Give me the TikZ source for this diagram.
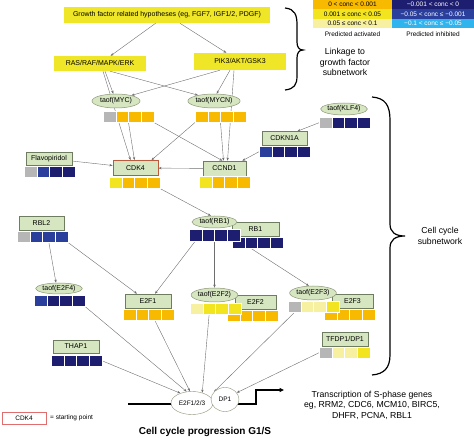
\documentclass[tikz,border=0pt]{standalone}
\usepackage{fontspec}
\setmainfont{Liberation Sans}
\usetikzlibrary{arrows.meta,positioning,shapes.geometric}
\definecolor{hypyellow}{RGB}{240,230,40}
\definecolor{boxfill}{RGB}{214,230,192}
\definecolor{boxline}{RGB}{110,125,95}
\definecolor{ovalline}{RGB}{140,150,120}
\definecolor{cdkred}{RGB}{190,90,60}
\definecolor{startred}{RGB}{225,110,110}
\definecolor{linkgrey}{RGB}{110,110,110}
\definecolor{cgrey}{RGB}{182,182,182}
\definecolor{act1}{RGB}{248,186,0}
\definecolor{act2}{RGB}{242,228,30}
\definecolor{act3}{RGB}{247,240,160}
\definecolor{inh1}{RGB}{30,30,112}
\definecolor{inh2}{RGB}{42,62,156}
\definecolor{inh3}{RGB}{48,180,238}
\pgfdeclarelayer{back}
\pgfsetlayers{back,main}
\tikzset{
	cell/.style={rectangle, draw=white, line width=0.5pt, minimum width=12.75pt, minimum height=11.5pt, inner sep=0pt, outer sep=0pt},
	gene/.style={rectangle, draw=boxline, fill=boxfill, line width=0.5pt, minimum width=46pt, minimum height=14pt, inner sep=0pt, font=\fontsize{7}{8}\selectfont},
	taof/.style={ellipse, draw=ovalline, fill=boxfill, line width=0.5pt, minimum width=46pt, minimum height=13pt, inner sep=0pt, font=\fontsize{7}{8}\selectfont},
	hyp/.style={rectangle, fill=hypyellow, minimum height=16pt, inner sep=0pt, font=\fontsize{7}{8}\selectfont},
	link/.style={draw=linkgrey, line width=0.4pt, -{Stealth[length=3.2pt,width=2.4pt]}},
	bigtext/.style={font=\fontsize{8.7}{10.5}\selectfont, align=center},
	legtext/.style={font=\fontsize{6.5}{7}\selectfont, inner sep=0pt},
}
% four coloured cells under a node
\def\cbar[#1](#2)(#3,#4,#5,#6){
	\node[cell, fill=#3, anchor=north west] (#1-1) at (#2) {};
	\node[cell, fill=#4, right=0pt of #1-1] (#1-2) {};
	\node[cell, fill=#5, right=0pt of #1-2] (#1-3) {};
	\node[cell, fill=#6, right=0pt of #1-3] (#1-4) {};
}

\begin{document}
\begin{tikzpicture}[x=1pt, y=-1pt]
			%%%%% START %%%%%
			\useasboundingbox (0,0) rectangle (474,438);
			
			% legend
			\fill[act1] (313,0) rectangle (392,9.5);
			\fill[act2] (313,9.5) rectangle (392,19);
			\fill[act3] (313,19) rectangle (392,28.5);
			\fill[inh1] (392,0) rectangle (474,9.5);
			\fill[inh2] (392,9.5) rectangle (474,19);
			\fill[inh3] (392,19) rectangle (474,28.5);
			\node[legtext] (la1) at (352.5,4.75) {0 < conc < 0.001};
			\node[legtext] (la2) at (352.5,14.25) {0.001 ≤ conc < 0.05};
			\node[legtext] (la3) at (352.5,23.75) {0.05 ≤ conc < 0.1};
			\node[legtext, text=white] (li1) at (433,4.75) {−0.001 < conc < 0};
			\node[legtext, text=white] (li2) at (433,14.25) {−0.05 < conc ≤ −0.001};
			\node[legtext, text=white] (li3) at (433,23.75) {−0.1 < conc ≤ −0.05};
			\node[legtext] (lact) at (352.5,34) {Predicted activated};
			\node[legtext] (linh) at (433,34) {Predicted inhibited};
			
			% growth factor subnetwork
			\node[hyp, minimum width=206pt] (hyp) at (167,15) {Growth factor related hypotheses (eg, FGF7, IGF1/2, PDGF)};
			\node[hyp, minimum width=92pt, minimum height=15pt] (ras) at (100,63.5) {RAS/RAF/MAPK/ERK};
			\node[hyp, minimum width=92pt, minimum height=17pt] (pik) at (240,61.5) {PIK3/AKT/GSK3};
			
			\node[taof, minimum width=48pt, minimum height=14pt] (myc) at (116,101) {taof(MYC)};
			\cbar[mycb](103,111)(cgrey,act1,act1,act1)
			\node[taof, minimum height=14pt] (mycn) at (214,101) {taof(MYCN)};
			\cbar[mycnb](195,111)(act1,act1,act1,act1)
			
			% cell cycle subnetwork
			\node[gene, draw=cdkred, line width=0.8pt, minimum width=45pt, minimum height=15pt] (cdk4) at (135.5,168) {CDK4};
			\cbar[cdk4b](109,177)(act2,act1,act1,act1)
			\node[gene, minimum width=43pt, minimum height=15pt] (ccnd1) at (224.5,168.5) {CCND1};
			\cbar[ccnd1b](199,176.5)(act2,act1,act1,act1)
			\node[taof, minimum height=12pt] (klf4) at (344,109) {taof(KLF4)};
			\cbar[klf4b](319,117)(cgrey,inh1,inh1,inh1)
			\node[gene, minimum width=45pt] (cdkn1a) at (284.5,138.5) {CDKN1A};
			\cbar[cdkn1ab](259,146)(inh2,inh1,inh1,inh1)
			\node[gene, minimum height=13pt] (flavo) at (49,158.5) {Flavopiridol};
			\cbar[flavob](24,166)(cgrey,inh2,inh1,inh1)
			
			\node[gene, minimum width=45pt] (rbl2) at (41.5,223) {RBL2};
			\cbar[rbl2b](17,231)(cgrey,inh2,inh2,inh2)
			\node[gene, minimum width=47pt] (rb1) at (255.5,229) {RB1};
			\cbar[rb1b](232,237)(inh1,inh1,inh1,inh1)
			\node[taof, minimum width=45pt, minimum height=12pt] (taofrb1) at (214.5,222) {taof(RB1)};
			\cbar[taofrb1b](189,229.5)(inh1,inh1,inh1,inh1)
			
			\node[taof, minimum height=11pt] (taofe2f4) at (59,288.5) {taof(E2F4)};
			\cbar[taofe2f4b](34,295)(inh2,inh1,inh1,inh1)
			\node[gene] (e2f1) at (148,301) {E2F1};
			\cbar[e2f1b](123,309)(act1,act1,act1,act1)
			\node[gene, minimum height=13pt] (thap1) at (76,346.5) {THAP1};
			\cbar[thap1b](51,355)(inh1,inh1,inh1,inh1)
			
			\node[gene, minimum width=41pt] (e2f2) at (255.5,302) {E2F2};
			\cbar[e2f2b](227,310)(act1,act1,act1,act1)
			\node[taof, minimum width=45pt, minimum height=14pt] (taofe2f2) at (214.5,295) {taof(E2F2)};
			\cbar[taofe2f2b](190,303)(act3,act2,act2,act2)
			
			\node[gene, minimum width=41pt] (e2f3) at (352.5,301) {E2F3};
			\cbar[e2f3b](324,309)(act1,act1,act1,act1)
			\node[taof, minimum height=14pt] (taofe2f3) at (313,293) {taof(E2F3)};
			\cbar[taofe2f3b](288,301)(cgrey,act3,act3,act2)
			\node[gene] (tfdp1) at (345,339) {TFDP1/DP1};
			\cbar[tfdp1b](319,347)(cgrey,act3,act3,act2)
			
			% E2F/DP complex on the promoter
			\node[ellipse, draw=ovalline, fill=white, minimum width=42pt, minimum height=23pt, inner sep=0pt, font=\fontsize{6.5}{7}\selectfont] (e2fc) at (192,403) {E2F1/2/3};
			\node[ellipse, draw=ovalline, fill=white, minimum width=28pt, minimum height=24pt, inner sep=0pt, font=\fontsize{6.5}{7}\selectfont] (dp1) at (225,399.5) {DP1};
			\coordinate (lnl) at (128,404);
			\coordinate (lnr) at (256,404);
			\coordinate (lnt) at (256,390);
			\coordinate (lne) at (284,390);
			
			\begin{pgfonlayer}{back}
			\draw[line width=1.2pt, -{Triangle[length=4.5pt,width=4pt]}] (lnl) -- (lnr) -- (lnt) -- (lne);
			
			\draw[link] (hyp) -- (ras);
			\draw[link] (hyp) -- (pik);
			\draw[link] ([xshift=5pt]ras.south) -- (myc);
			\draw[link] ([xshift=3pt]ras.south) -- ([xshift=-5pt]cdk4.north);
			\draw[link] ([xshift=10pt]ras.south) -- (mycn.160);
			\draw[link] ([xshift=-20pt]pik.south) -- (myc.20);
			\draw[link] ([xshift=-10pt]pik.south) -- (mycn.70);
			\draw[link] ([xshift=-6pt]pik.south) -- ([xshift=3pt]ccnd1.north);
			\draw[link] (mycb-3.south west) -- ([xshift=-1pt]cdk4.north);
			\draw[link] (mycb-4.south east) -- ([xshift=-2pt]ccnd1.north);
			\draw[link] (mycnb-1.south west) -- ([xshift=16pt]cdk4.north);
			\draw[link] (mycnb-2.south east) -- ([xshift=-1pt]ccnd1.north);
			
			\draw[link] (flavo) -- (cdk4);
			\draw[link] (ccnd1) -- (cdk4);
			\draw[link] (cdkn1ab-1.west) -- ([xshift=-4pt]ccnd1.north east);
			\draw[link] (klf4b-1.west) -- ([xshift=-10pt]cdkn1a.north east);
			\draw[link] (cdk4b-4.south east) -- (taofrb1.120);
			\draw[link] (taofrb1b-2.south east) -- (taofe2f2);
			\draw[link] (taofrb1b-1.south) -- ([xshift=7pt]e2f1.north);
			\draw[link] (rb1b-2.south) -- (taofe2f3.120);
			\draw[link] (rbl2b-3.south) -- ([xshift=-3pt]taofe2f4.north);
			\draw[link] (rbl2b-4.south east) -- ([xshift=-11pt]e2f1.north);
			
			\draw[link] (taofe2f4b-4.south east) -- (e2fc.115);
			\draw[link] (thap1b-4.east) -- (e2fc.140);
			\draw[link] (e2f1b-3.south) -- (e2fc.100);
			\draw[link] (taofe2f2b-2.south) -- (e2fc.45);
			\draw[link] (taofe2f3b-1.south) -- (dp1.145);
			\draw[link] (tfdp1b-1.west) -- (dp1.30);
			\end{pgfonlayer}
			
			% braces
			\draw[line width=1.2pt] (285,8) .. controls (295,9) and (297,15) .. (297,25) -- (297,42) .. controls (297,47) and (299,50) .. (303,50) .. controls (299,50) and (297,53) .. (297,58) -- (297,76) .. controls (297,85) and (294,89) .. (285,90);
			\draw[line width=1.2pt] (372,97) .. controls (385,98) and (390,105) .. (390,120) -- (390,224) .. controls (390,232) and (395,236) .. (405,236) .. controls (395,236) and (390,240) .. (390,248) -- (390,355) .. controls (390,368) and (384,374) .. (372,375);
			
			\node[bigtext] (linktxt) at (345,62) {Linkage to\\growth factor\\subnetwork};
			\node[bigtext] (celltxt) at (440,236) {Cell cycle\\subnetwork};
			\node[bigtext] (transtxt) at (372,405) {Transcription of S-phase genes\\eg, RRM2, CDC6, MCM10, BIRC5,\\DHFR, PCNA, RBL1};
			\node[font=\bfseries\fontsize{10}{12}\selectfont] (title) at (205,432) {Cell cycle progression G1/S};
			
			% starting point key
			\node[rectangle, draw=startred, line width=0.8pt, minimum width=44pt, minimum height=12pt, inner sep=0pt, font=\fontsize{6.5}{7}\selectfont] (startbox) at (24,418) {CDK4};
			\node[legtext, anchor=west] (starttxt) at (50,418) {= starting point};
			%%%%% END %%%%%
\end{tikzpicture}
\end{document}
